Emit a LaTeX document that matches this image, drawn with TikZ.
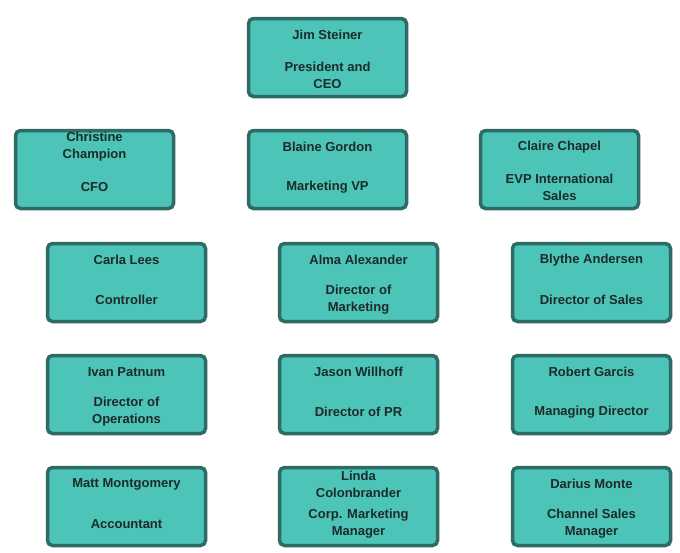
\documentclass[tikz,border=0pt]{standalone}
\usepackage{fontspec}
\setmainfont{Liberation Sans}
\usetikzlibrary{backgrounds}
\definecolor{boxfill}{HTML}{4CC4B8}
\definecolor{boxline}{HTML}{2F6B64}
\definecolor{txt}{HTML}{1C2B2A}
\tikzset{
  orgbox/.style={draw=boxline, fill=boxfill, line width=3.5pt, rounded corners=5pt, minimum width=158pt, minimum height=78pt, inner sep=0pt},
  orgtxt/.style={text=txt, font=\fontsize{13}{17}\selectfont\bfseries, align=center, inner sep=0pt},
  wire/.style={line width=3.5pt, black, rounded corners=8pt}
}
\newcommand\obox[5]{%
  \node[orgbox] (#1) at (#2+80.5,#3+40.5) {};
  \node[orgtxt] (#1n) at (#2+80.5,#3+18) {#4};
  \node[orgtxt] (#1t) at (#2+80.5,#3+58) {#5};
}
\begin{document}
\begin{tikzpicture}[x=1pt,y=-1pt]
\useasboundingbox[fill=white] (0,0) rectangle (680,552);
\obox{ceo}{247}{17}{Jim Steiner}{President and\\CEO}
\obox{cfo}{14}{129}{Christine\\Champion}{CFO}
\obox{vp}{247}{129}{Blaine Gordon}{Marketing VP}
\obox{evp}{479}{129}{Claire Chapel}{EVP International\\Sales}
\obox{a1}{46}{242}{Carla Lees}{Controller}
\obox{a2}{46}{354}{Ivan Patnum}{Director of\\Operations}
\obox{a3}{46}{466}{Matt Montgomery}{Accountant}
\obox{b1}{278}{242}{Alma Alexander}{Director of\\Marketing}
\obox{b2}{278}{354}{Jason Willhoff}{Director of PR}
\obox{b3}{278}{466}{Linda\\Colonbrander}{Corp. Marketing\\Manager}
\obox{c1}{511}{242}{Blythe Andersen}{Director of Sales}
\obox{c2}{511}{354}{Robert Garcis}{Managing Director}
\obox{c3}{511}{466}{Darius Monte}{Channel Sales\\Manager}
\begin{scope}[on background layer]
\draw[wire] (cfo.north) -- (cfo.north|-0,113) -- (evp.north|-0,113) -- (evp.north);
\draw[wire] (ceo.south) -- (vp.north);
\draw[wire] (cfo.south-|30,0) -- (30,506.5) -- (a3.west);
\draw[wire] (30,282.5) -- (a1.west);
\draw[wire] (30,394.5) -- (a2.west);
\draw[wire] (vp.south-|262,0) -- (262,506.5) -- (b3.west);
\draw[wire] (262,282.5) -- (b1.west);
\draw[wire] (262,394.5) -- (b2.west);
\draw[wire] (evp.south-|495,0) -- (495,506.5) -- (c3.west);
\draw[wire] (495,282.5) -- (c1.west);
\draw[wire] (495,394.5) -- (c2.west);
\end{scope}
\end{tikzpicture}
\end{document}
